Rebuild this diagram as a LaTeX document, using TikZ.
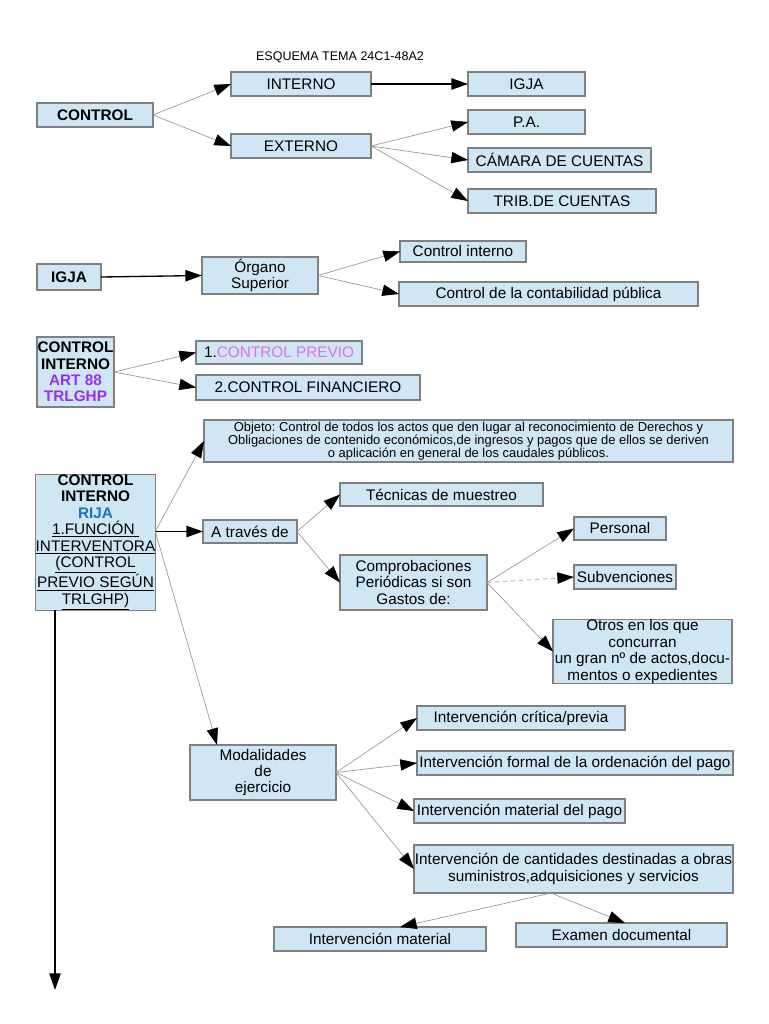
\documentclass[tikz,border=0pt]{standalone}
\usepackage{fontspec}
\setmainfont{Liberation Sans}
\usetikzlibrary{arrows.meta,calc}
\definecolor{boxfill}{RGB}{207,230,245}
\definecolor{boxline}{RGB}{128,128,128}
\definecolor{conline}{RGB}{150,150,150}
\definecolor{violeta}{RGB}{155,48,240}
\definecolor{rosa}{RGB}{226,110,232}
\definecolor{azul}{RGB}{30,111,208}
\tikzset{
 box/.style={draw=boxline, fill=boxfill, line width=0.8pt, inner sep=0pt, outer sep=0pt, align=center, font=\fontsize{11.5}{12.3}\selectfont},
 con/.style={draw=conline, line width=0.5pt, -{Triangle[length=12.5pt,width=8.5pt,black]}},
 dcon/.style={con, dashed, line width=0.8pt, draw={rgb,255:red,190;green,190;blue,190}},
 bcon/.style={draw=black, line width=1pt, -{Triangle[length=12.5pt,width=8.5pt,black]}},
 titulo/.style={inner sep=0pt, font=\fontsize{9.4}{10}\selectfont},
}
\newcommand\bx[7][]{\node[box,minimum width={(#5-#3)*0.75pt},minimum height={(#6-#4)*0.75pt},#1] (#2) at ({(#3+#5)/2},{(#4+#6)/2}) {#7};}
\begin{document}
\frenchspacing
\begin{tikzpicture}[x=0.75pt,y=-0.75pt]
\useasboundingbox (0,0) rectangle (768,1024);
\node[titulo] (title) at (340,57) {ESQUEMA TEMA 24C1-48A2};
\bx{control}{37}{103}{153}{127}{\bfseries CONTROL}
\bx{interno}{231}{72}{371}{96}{INTERNO}
\bx{externo}{231}{134}{371}{158}{EXTERNO}
\bx{igja}{468}{72}{585}{96}{IGJA}
\bx{pa}{468}{110}{585}{134}{P.A.}
\bx{camara}{468}{148}{651}{172}{CÁMARA DE CUENTAS}
\bx{trib}{468}{189}{656}{213}{TRIB.DE CUENTAS}
\bx{igjab}{37}{264}{101}{290}{\bfseries IGJA}
\bx{organo}{202}{257}{318}{294}{Órgano\\Superior}
\bx{cint}{400}{241}{526}{262}{Control interno}
\bx{ccont}{399}{282}{698}{306}{Control de la contabilidad pública}
\bx{ciart}{37}{337}{114}{407}{\bfseries CONTROL\\\bfseries INTERNO\\\bfseries\color{violeta}ART 88\\\bfseries\color{violeta}TRLGHP}
\bx{cprev}{196}{341}{362}{364}{1.\textcolor{rosa}{CONTROL PREVIO}}
\bx{cfin}{196}{375}{420}{400}{2.CONTROL FINANCIERO}
\bx[font=\fontsize{9.7}{9.9}\selectfont]{objeto}{204}{420}{733}{462}{Objeto: Control de todos los actos que den lugar al reconocimiento de Derechos y\\Obligaciones de contenido económicos,de ingresos y pagos que de ellos se deriven\\o aplicación en general de los caudales públicos.}
\bx{rija}{37}{475}{154}{610}{\bfseries CONTROL\\\bfseries INTERNO\\\bfseries\color{azul}RIJA\\\underline{1.FUNCIÓN\ }\\\underline{INTERVENTORA}\\\underline{(CONTROL}\\\underline{PREVIO SEGÚN}\\\underline{TRLGHP)}}
\bx{atraves}{203}{520}{297}{543}{A través de}
\bx{tecnicas}{340}{483}{543}{506}{Técnicas de muestreo}
\bx{compr}{340}{555}{487}{610}{Comprobaciones\\Periódicas si son\\Gastos de:}
\bx{personal}{574}{517}{666}{540}{Personal}
\bx{subv}{574}{565}{676}{589}{Subvenciones}
\bx{otros}{553}{620}{732}{683}{Otros en los que\\concurran\\un gran nº de actos,docu-\\mentos o expedientes}
\bx{modal}{190}{745}{336}{800}{Modalidades\\de\\ejercicio}
\bx{icrit}{417}{706}{625}{730}{Intervención crítica/previa}
\bx{iform}{417}{751}{733}{775}{Intervención formal de la ordenación del pago}
\bx{imatp}{414}{799}{625}{823}{Intervención material del pago}
\bx{icant}{414}{845}{733}{893}{Intervención de cantidades destinadas a obras\\suministros,adquisiciones y servicios}
\bx{imat}{274}{927}{486}{951}{Intervención material}
\bx{iexam}{516}{923}{727}{947}{Examen documental}
% connectors
\draw[con] (control.east) -- (interno.west);
\draw[con] (control.east) -- (externo.west);
\draw[bcon] (interno.east) -- (igja.west);
\draw[con] (externo.east) -- (pa.west);
\draw[con] (externo.east) -- (camara.west);
\draw[con] (externo.east) -- (trib.west);
\draw[bcon] (igjab.east) -- (organo.west);
\draw[con] (organo.east) -- (cint.west);
\draw[con] (organo.east) -- (ccont.west);
\draw[con] (ciart.east) -- (cprev.west);
\draw[con] (ciart.east) -- (cfin.west);
\coordinate (rs) at (rija.east |- atraves.west);
\coordinate (mtop) at ($(modal.north west)+(27,0)$);
\draw[con] (rs) -- (objeto.west);
\draw[bcon] (rs) -- (atraves.west);
\draw[con] (rs) -- (mtop);
\coordinate (fin) at (55,990);
\draw[bcon] (rija.south -| fin) -- (fin);
\draw[con] (atraves.east) -- (tecnicas.west);
\draw[con] (atraves.east) -- (compr.west);
\draw[con] (compr.east) -- (personal.west);
\draw[dcon] (compr.east) -- (subv.west);
\draw[con] (compr.east) -- (otros.west);
\draw[con] (modal.east) -- (icrit.west);
\draw[con] (modal.east) -- (iform.west);
\draw[con] (modal.east) -- (imatp.west);
\draw[con] (modal.east) -- (icant.west);
\coordinate (cb) at ($(icant.south west)+(137,0)$);
\coordinate (imt) at ($(imat.north west)+(126,0)$);
\coordinate (iet) at ($(iexam.north west)+(109,0)$);
\draw[con] (cb) -- (imt);
\draw[con] (cb) -- (iet);
\end{tikzpicture}
\end{document}
